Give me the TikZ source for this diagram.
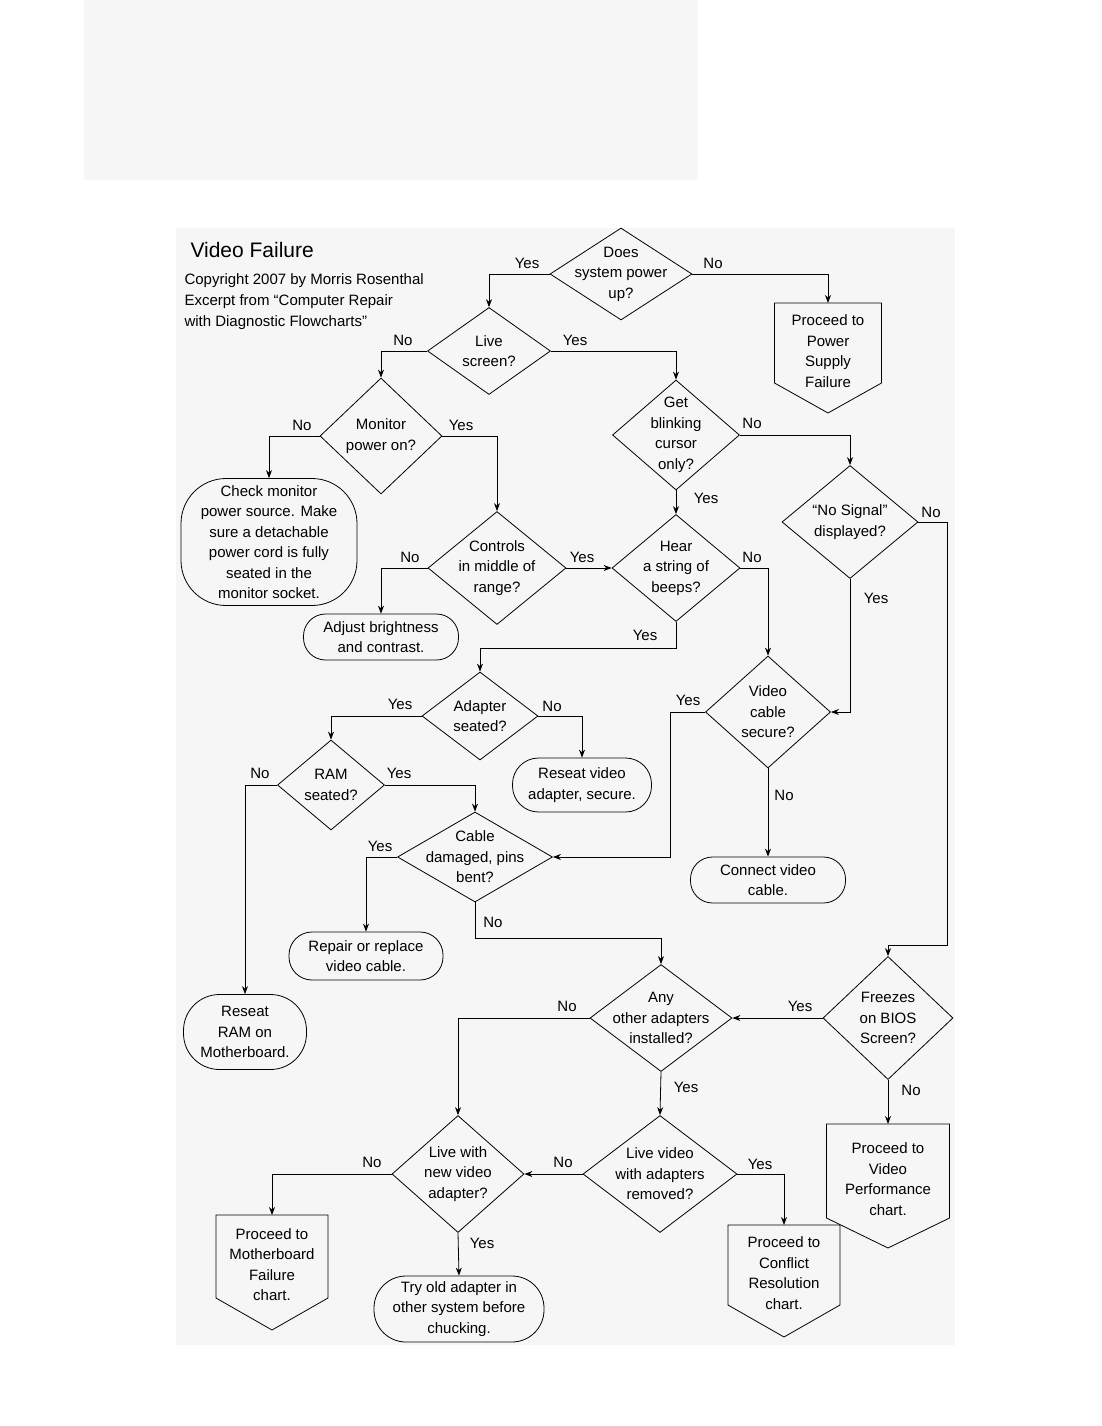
\documentclass[tikz,border=0pt]{standalone}
\usepackage{fontspec}
\setmainfont{Liberation Sans}
\usetikzlibrary{shapes.geometric,arrows.meta}
\begin{document}
\begin{tikzpicture}[x=1pt,y=-1pt,
  every node/.style={font=\fontsize{15}{20.5}\selectfont},
  dia/.style={draw,thick,diamond,inner sep=0pt},
  txt/.style={align=center,inner sep=0pt},
  rbox/.style={draw,thick,rectangle,inner sep=0pt},
  lab/.style={inner sep=0pt},
  ar/.style={thick,-{Stealth[length=8pt,width=6pt]}},
  line width=1pt]
\useasboundingbox (0,0) rectangle (1102,1426);
\fill[white] (0,0) rectangle (1102,1426);
\fill[black!3] (84,0) rectangle (698,180);
\fill[black!3.5] (176,228) rectangle (955,1345);
% title
\node[lab,anchor=west,font=\fontsize{21}{24}\selectfont] at (190,250) {Video Failure};
\node[lab,anchor=west] at (184,281) {Copyright 2007 by Morris Rosenthal};
\node[lab,anchor=west] at (184,302) {Excerpt from ``Computer Repair};
\node[lab,anchor=west] at (184,323) {with Diagnostic Flowcharts''};
% diamonds
\newcommand\dmd[6]{\node[dia,minimum width=#4pt,minimum height=#5pt] (#1) at (#2,#3) {};\node[txt] at (#1) {#6};}
\dmd{D1}{621}{274}{142}{92}{Does\\system power\\up?}
\dmd{D2}{489}{351}{123}{87}{Live\\screen?}
\dmd{D3}{381}{436}{122}{116}{Monitor\\power on?}
\dmd{D4}{676}{435}{127}{110}{Get\\blinking\\cursor\\only?}
\dmd{D5}{850}{522}{136}{113}{``No Signal''\\displayed?}
\dmd{D6}{497}{568}{138}{113}{Controls\\in middle of\\range?}
\dmd{D7}{676}{568}{128}{107}{Hear\\a string of\\beeps?}
\dmd{D8}{768}{712}{125}{112}{Video\\cable\\secure?}
\dmd{D9}{480}{716}{116}{88}{Adapter\\seated?}
\dmd{D10}{331}{785}{107}{90}{RAM\\seated?}
\dmd{D11}{475}{857}{155}{90}{Cable\\damaged, pins\\bent?}
\dmd{D12}{661}{1018}{142}{107}{Any\\other adapters\\installed?}
\dmd{D13}{888}{1018}{130}{123}{Freezes\\on BIOS\\Screen?}
\dmd{D14}{458}{1174}{132}{117}{Live with\\new video\\adapter?}
\dmd{D15}{660}{1174}{154}{117}{Live video\\with adapters\\removed?}
% rounded boxes
\newcommand\rbx[7]{\node[rbox,minimum width=#4pt,minimum height=#5pt,rounded corners=#6pt] (#1) at (#2,#3) {};\node[txt] at (#1) {#7};}
\rbx{R1}{269}{542}{176}{127}{45}{Check monitor\\power source. Make\\sure a detachable\\power cord is fully\\seated in the\\monitor socket.}
\rbx{R2}{381}{637}{155}{46}{22}{Adjust brightness\\and contrast.}
\rbx{R3}{582}{785}{139}{54}{26}{Reseat video\\adapter, secure.}
\rbx{R4}{768}{880}{155}{46}{22}{Connect video\\cable.}
\rbx{R5}{366}{956}{154}{48}{23}{Repair or replace\\video cable.}
\rbx{R6}{245}{1032}{123}{75}{36}{Reseat\\RAM on\\Motherboard.}
\rbx{R7}{459}{1309}{170}{66}{32}{Try old adapter in\\other system before\\chucking.}
% off-page
\newcommand\opg[7]{\draw[thick] (#2-#4,#3) -- (#2+#4,#3) -- (#2+#4,#5) -- (#2,#6) -- (#2-#4,#5) -- cycle;\coordinate (#1) at (#2,#3);\node[txt] at (#2,#3+0.5*#5-0.5*#3+8) {#7};}
\opg{P1}{828}{303}{53.5}{383}{413}{Proceed to\\Power\\Supply\\Failure}
\opg{P2}{888}{1124}{61.5}{1218}{1248}{Proceed to\\Video\\Performance\\chart.}
\opg{P3}{272}{1215}{56}{1298}{1330}{Proceed to\\Motherboard\\Failure\\chart.}
\opg{P4}{784}{1225}{56}{1305}{1337}{Proceed to\\Conflict\\Resolution\\chart.}
% connectors
\draw[ar] (D1.west) -| (D2.north);
\draw[ar] (D1.east) -| (P1);
\draw[ar] (D2.west) -| (D3.north);
\draw[ar] (D2.east) -| (D4.north);
\draw[ar] (D3.west) -| (R1.north);
\draw[ar] (D3.east) -| (D6.north);
\draw[ar] (D4.east) -| (D5.north);
\draw[ar] (D4.south) -- (D7.north);
\coordinate (c1) at (947,945);
\draw[ar] (D5.east) -| (c1) -| (D13.north);
\draw[ar] (D5.south) |- (D8.east);
\draw[ar] (D6.west) -| (R2.north);
\draw[ar] (D6.east) -- (D7.west);
\draw[ar] (D7.east) -| (D8.north);
\coordinate (c2) at (676,648);
\draw[ar] (D7.south) -- (c2) -| (D9.north);
\coordinate (c3) at (670,857);
\draw[ar] (D8.west) -| (c3) -- (D11.east);
\draw[ar] (D8.south) -- (R4.north);
\draw[ar] (D9.west) -| (D10.north);
\draw[ar] (D9.east) -| (R3.north);
\draw[ar] (D10.west) -| (R6.north);
\draw[ar] (D10.east) -| (D11.north);
\draw[ar] (D11.west) -| (R5.north);
\coordinate (c4) at (475,938);
\draw[ar] (D11.south) -- (c4) -| (D12.north);
\draw[ar] (D13.west) -- (D12.east);
\draw[ar] (D13.south) -- (P2);
\draw[ar] (D12.west) -| (D14.north);
\draw[ar] (D12.south) -- (D15.north);
\draw[ar] (D15.west) -- (D14.east);
\draw[ar] (D15.east) -| (P4);
\draw[ar] (D14.west) -| (P3);
\draw[ar] (D14.south) -- (R7.north);
% labels
\foreach \x/\y/\t in {527/263/Yes,713/263/No,403/340/No,575/340/Yes,302/425/No,461/425/Yes,
 752/423/No,706/498/Yes,931/512/No,876/598/Yes,410/557/No,582/557/Yes,752/557/No,645/635/Yes,
 688/700/Yes,784/795/No,400/704/Yes,552/706/No,260/773/No,399/773/Yes,380/846/Yes,493/922/No,
 800/1006/Yes,911/1090/No,567/1006/No,686/1087/Yes,563/1162/No,760/1164/Yes,372/1162/No,482/1243/Yes}
 \node[lab] at (\x,\y) {\t};
\end{tikzpicture}
\end{document}
